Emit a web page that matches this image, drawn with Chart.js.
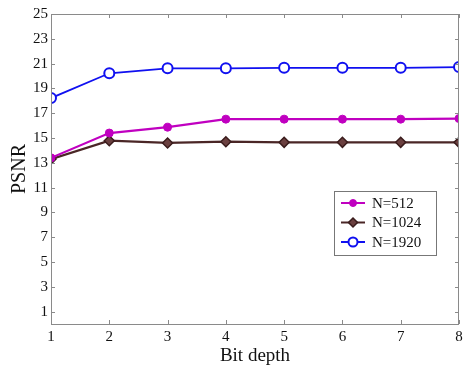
<!DOCTYPE html>
<html>
<head>
<meta charset="utf-8">
<script src="https://cdn.jsdelivr.net/npm/chart.js@4"></script>
<style>
  html, body { margin: 0; padding: 0; background: #fff; }
  #wrap { width: 474px; height: 373px; }
</style>
</head>
<body>
<div id="wrap"><canvas id="psnrChart" width="474" height="373"></canvas></div>
<script>
const bitDepths = [1, 2, 3, 4, 5, 6, 7, 8];
const psnr512 = [13.4, 15.4, 15.87, 16.52, 16.52, 16.52, 16.52, 16.57];
const psnr1024 = [13.3, 14.78, 14.6, 14.7, 14.65, 14.65, 14.65, 14.65];
const psnr1920 = [18.22, 20.22, 20.62, 20.62, 20.66, 20.66, 20.66, 20.72];
const yTicks = [1, 3, 5, 7, 9, 11, 13, 15, 17, 19, 21, 23, 25];
const seriesNames = ["N=512", "N=1024", "N=1920"];

const serif = "'Liberation Serif', 'DejaVu Serif', serif";
const axisGrey = "#8a8a8a";

function pts(vals) {
  return vals.map((v, i) => ({ x: bitDepths[i], y: v }));
}

// box around plot with inward tick marks, matlab style
const boxTicks = {
  id: "boxTicks",
  afterDraw(chart) {
    const { ctx, chartArea: a, scales } = chart;
    ctx.save();
    ctx.strokeStyle = axisGrey;
    ctx.lineWidth = 1;
    ctx.strokeRect(a.left + 0.5, a.top + 0.5, a.right - a.left - 1, a.bottom - a.top);
    ctx.beginPath();
    for (const v of bitDepths) {
      const x = Math.round(scales.x.getPixelForValue(v)) + 0.5;
      ctx.moveTo(x, a.bottom); ctx.lineTo(x, a.bottom - 4);
      ctx.moveTo(x, a.top); ctx.lineTo(x, a.top + 4);
    }
    for (const v of yTicks) {
      const y = Math.round(scales.y.getPixelForValue(v)) + 0.5;
      ctx.moveTo(a.left, y); ctx.lineTo(a.left + 4, y);
      ctx.moveTo(a.right, y); ctx.lineTo(a.right - 4, y);
    }
    ctx.stroke();
    ctx.restore();
  }
};

// legend box inside the plot, lower right
const innerLegend = {
  id: "innerLegend",
  afterDraw(chart) {
    const { ctx } = chart;
    const bx = 334, by = 191, bw = 102, bh = 64;
    ctx.save();
    ctx.fillStyle = "#fff";
    ctx.fillRect(bx, by, bw, bh);
    ctx.strokeStyle = "#777";
    ctx.lineWidth = 1;
    ctx.strokeRect(bx + 0.5, by + 0.5, bw, bh);
    ctx.font = "15px " + serif;
    ctx.textBaseline = "middle";
    chart.data.datasets.forEach((ds, i) => {
      const y = by + 12 + i * 19.5;
      const mx = bx + 19;
      ctx.strokeStyle = ds.borderColor;
      ctx.lineWidth = 2;
      ctx.beginPath();
      ctx.moveTo(bx + 7, y); ctx.lineTo(bx + 31, y);
      ctx.stroke();
      ctx.fillStyle = ds.pointBackgroundColor;
      ctx.strokeStyle = ds.pointBorderColor;
      ctx.lineWidth = ds.pointBorderWidth;
      const r = ds.pointRadius - 0.5;
      ctx.beginPath();
      if (ds.pointStyle === "rectRot") {
        ctx.moveTo(mx, y - r); ctx.lineTo(mx + r, y);
        ctx.lineTo(mx, y + r); ctx.lineTo(mx - r, y);
        ctx.closePath();
      } else {
        ctx.arc(mx, y, r, 0, Math.PI * 2);
      }
      ctx.fill(); ctx.stroke();
      ctx.fillStyle = "#111";
      ctx.fillText(ds.label, bx + 38, y + 1);
    });
    ctx.restore();
  }
};

new Chart(document.getElementById("psnrChart"), {
  type: "line",
  data: {
    datasets: [
      {
        label: seriesNames[0], data: pts(psnr512),
        borderColor: "#c000c0", borderWidth: 2.2,
        pointStyle: "circle", pointRadius: 4, pointBorderWidth: 1,
        pointBackgroundColor: "#c000c0", pointBorderColor: "#c000c0"
      },
      {
        label: seriesNames[1], data: pts(psnr1024),
        borderColor: "#4a2626", borderWidth: 2.2,
        pointStyle: "rectRot", pointRadius: 5, pointBorderWidth: 1.5,
        pointBackgroundColor: "#6b4040", pointBorderColor: "#3a1c1c"
      },
      {
        label: seriesNames[2], data: pts(psnr1920),
        borderColor: "#1010f0", borderWidth: 1.8,
        pointStyle: "circle", pointRadius: 5, pointBorderWidth: 2,
        pointBackgroundColor: "#ffffff", pointBorderColor: "#1010f0"
      }
    ]
  },
  options: {
    responsive: false,
    animation: false,
    layout: { padding: { left: 8, top: 14, right: 15, bottom: 6 } },
    plugins: {
      legend: { display: false },
      tooltip: { enabled: false }
    },
    scales: {
      x: {
        type: "linear", min: 1, max: 8,
        afterBuildTicks(s) { s.ticks = bitDepths.map(v => ({ value: v })); },
        afterFit(s) { s.height = 43; },
        grid: { display: false, drawTicks: false },
        border: { display: false },
        ticks: { color: "#111", font: { family: serif, size: 15 }, padding: 4, maxRotation: 0 },
        title: { display: true, text: "Bit depth", color: "#111", font: { family: serif, size: 19 }, padding: { top: 0, bottom: 0 } }
      },
      y: {
        min: 0, max: 25,
        afterBuildTicks(s) { s.ticks = yTicks.map(v => ({ value: v })); },
        afterFit(s) { s.width = 43; },
        grid: { display: false, drawTicks: false },
        border: { display: false },
        ticks: { color: "#111", font: { family: serif, size: 15 }, padding: 3 },
        title: { display: true, text: "PSNR", color: "#111", font: { family: serif, size: 20 }, padding: { top: 0, bottom: 0 } }
      }
    }
  },
  plugins: [boxTicks, innerLegend]
});
</script>
</body>
</html>
